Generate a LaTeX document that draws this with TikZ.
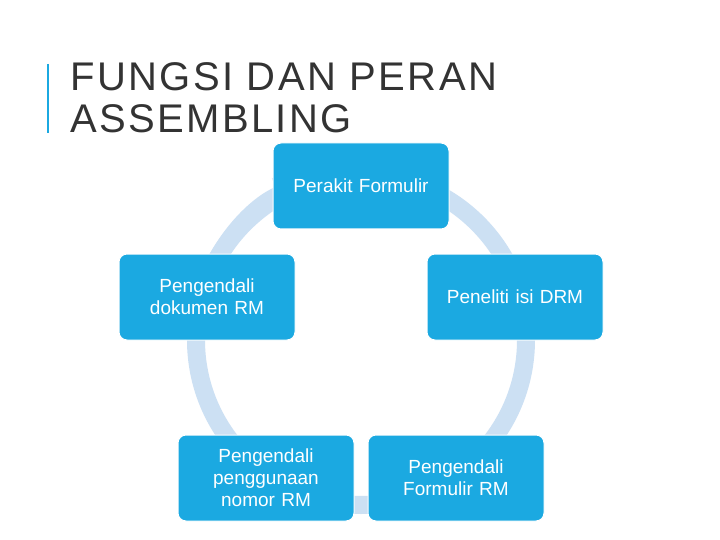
\documentclass[tikz,border=0pt]{standalone}
\usepackage{fontspec}
\setmainfont{Liberation Sans}
\newfontfamily\titlefont[LetterSpace=6]{Liberation Sans}
\usetikzlibrary{arrows.meta}
\definecolor{boxblue}{HTML}{1BA9E1}
\definecolor{ringblue}{HTML}{CCE0F3}
\definecolor{barblue}{HTML}{1BA9E1}
\definecolor{titlegray}{HTML}{333333}
\tikzset{
  stepbox/.style={draw=white,line width=1pt,fill=boxblue,rounded corners=8pt,
    minimum width=176pt,minimum height=86pt,text width=165pt,align=center,
    font=\fontsize{19}{22}\selectfont,text=white,inner sep=2pt},
  ring/.style={ringblue,line width=18pt}
}
\begin{document}
\begin{tikzpicture}[x=1pt,y=1pt]
\useasboundingbox (0,0) rectangle (720,-540);
\fill[white] (0,0) rectangle (720,-540);
\coordinate (c) at (361,-340);
\draw[ring] (c) circle[radius=165];
\draw[ring,-{Triangle[width=36pt,length=22pt]}] (c) ++(160:165) arc[start angle=160,end angle=112,radius=165];
\draw[barblue,line width=2.5pt] (48,-64) -- (48,-133);
\node[anchor=north west,align=left,text=titlegray,inner sep=0pt,font=\titlefont\fontsize{40}{42}\selectfont] (t) at (70,-62) {FUNGSI DAN PERAN\\ASSEMBLING};
\node[stepbox] (a) at (361,-186) {Perakit Formulir\\[24pt]};
\node[stepbox] (b) at (515,-297) {Peneliti isi DRM};
\node[stepbox] (d) at (456,-478) {Pengendali\\Formulir RM};
\node[stepbox] (e) at (266,-478) {Pengendali\\penggunaan\\nomor RM};
\node[stepbox] (f) at (207,-297) {Pengendali\\dokumen RM\\[14pt]};
\end{tikzpicture}
\end{document}
